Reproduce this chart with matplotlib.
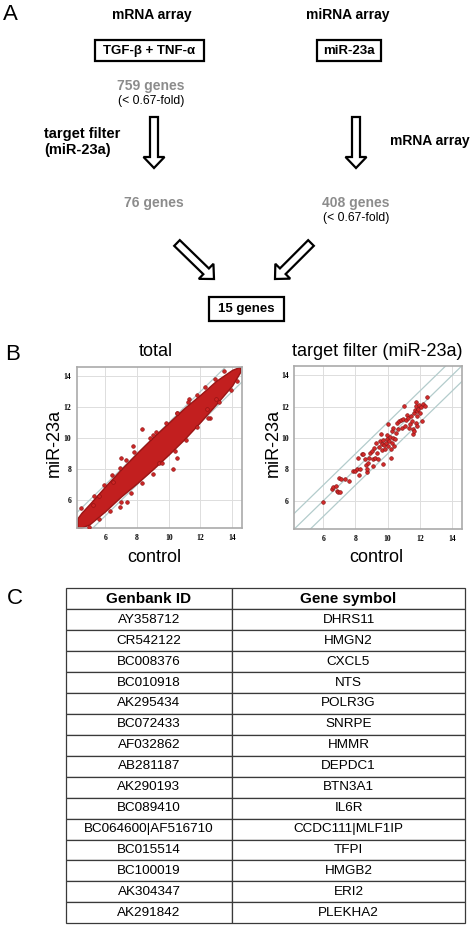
import matplotlib.pyplot as plt
from matplotlib.patches import Rectangle, FancyArrow

plt.rcParams['font.family'] = ['Liberation Sans', 'DejaVu Sans']

# ---- panel B: total array (dense cloud drawn as band + stray points) ----
cloud_x = [4.25, 4.5, 5.0, 6.0, 7.0, 8.0, 9.0, 10.0, 11.0, 12.0, 13.0, 14.0, 14.5]
cloud_hi = [4.85, 5.2, 5.75, 6.9, 8.0, 9.05, 10.05, 11.0, 11.95, 12.8, 13.7, 14.4, 14.6]
cloud_lo = [4.25, 4.25, 4.45, 5.3, 6.25, 7.1, 8.0, 8.95, 9.95, 11.05, 12.2, 13.4, 14.25]

stray_x = [8.3, 7.75, 7.0, 6.5, 5.6, 5.2, 10.5, 12.4, 13.0, 10.3, 9.4, 10.5, 7.4, 11.3,
           12.6, 9.0, 6.9,
           4.5, 5.3, 5.9, 6.4, 6.9, 7.3, 7.8, 8.8, 9.2, 9.8, 10.5, 11.2, 11.8, 12.3, 12.9,
           13.5,
           5.0, 5.6, 6.3, 7.0, 7.6, 8.3, 9.0, 9.6, 10.4, 11.1, 11.8, 12.5, 13.2, 13.9, 14.3]
stray_y = [10.6, 9.5, 8.75, 7.2, 6.3, 5.7, 11.6, 11.9, 12.5, 8.0, 8.4, 8.7, 5.9, 12.5,
           11.3, 10.2, 5.6,
           5.5, 6.3, 7.0, 7.6, 8.1, 8.6, 9.1, 10.0, 10.4, 11.0, 11.6, 12.3, 12.8, 13.3, 13.8,
           14.3,
           4.3, 4.8, 5.3, 5.9, 6.5, 7.1, 7.7, 8.4, 9.2, 9.9, 10.7, 11.3, 12.3, 13.1, 13.7]

# ---- panel B: target filter (miR-23a) ----
filt_x = [5.96, 6.52, 6.58, 6.77, 6.83, 6.93, 7.04, 6.97, 7.08, 7.35, 7.61, 7.86, 7.97, 8.07,
          8.22, 8.28, 8.17, 8.38, 8.48, 8.59, 8.65, 8.69, 8.73, 8.80, 8.86, 8.90, 9.00, 9.06,
          9.10, 9.15, 9.21, 9.27, 9.35, 9.42, 9.48, 9.52, 9.56, 9.62, 9.64, 9.69, 9.73, 9.79,
          9.83, 9.89, 9.93, 9.98, 10.02, 10.04, 10.10, 10.14, 10.18, 10.20, 10.24, 10.29,
          10.31, 10.35, 10.41, 10.45, 10.51, 10.60, 10.66, 10.72, 10.80, 10.87, 10.93, 11.01,
          11.07, 11.13, 11.18, 11.28, 11.34, 11.38, 11.42, 11.49, 11.55, 11.59, 11.63, 11.65,
          11.69, 11.73, 11.76, 11.80, 11.84, 11.90, 11.96, 12.00, 12.07, 12.13, 12.21, 12.31,
          12.42, 11.76, 11.84]
filt_y = [5.94, 6.74, 6.85, 6.95, 6.64, 6.57, 6.57, 7.48, 7.38, 7.38, 7.27, 7.90, 7.90, 8.00,
          7.63, 8.05, 8.75, 8.96, 8.96, 8.65, 8.27, 7.84, 8.05, 8.43, 8.75, 9.07, 9.17, 8.65,
          8.22, 9.39, 8.75, 9.70, 9.03, 8.65, 9.45, 9.82, 10.23, 9.60, 9.24, 8.33, 9.87, 9.53,
          9.28, 9.70, 9.92, 10.17, 10.87, 9.49, 9.81, 10.08, 9.28, 8.75, 10.44, 9.70,
          10.66, 10.02, 9.49, 9.92, 10.34, 10.97, 10.55, 11.08, 11.14, 10.66, 11.23, 12.03,
          10.80, 11.18, 11.50, 11.29, 10.66, 10.93, 11.40, 11.08, 10.55, 10.23, 10.44, 11.61,
          11.82, 12.03, 12.29, 11.71, 11.40, 11.86, 12.14, 11.61, 12.00, 11.08, 12.20, 12.03,
          12.62, 10.97, 10.76]

ticks = [6, 8, 10, 12, 14]
fold_offsets = [-1, 0, 1]

# ---- panel C: table ----
col_headers = ["Genbank ID", "Gene symbol"]
genbank_ids = ["AY358712", "CR542122", "BC008376", "BC010918", "AK295434", "BC072433",
               "AF032862", "AB281187", "AK290193", "BC089410", "BC064600|AF516710",
               "BC015514", "BC100019", "AK304347", "AK291842"]
gene_symbols = ["DHRS11", "HMGN2", "CXCL5", "NTS", "POLR3G", "SNRPE", "HMMR", "DEPDC1",
                "BTN3A1", "IL6R", "CCDC111|MLF1IP", "TFPI", "HMGB2", "ERI2", "PLEKHA2"]

W, H = 474, 927
fig = plt.figure(figsize=(W / 100, H / 100), dpi=100)


def px_axes(x0, y0, x1, y1):
    return fig.add_axes([x0 / W, 1 - y1 / H, (x1 - x0) / W, (y1 - y0) / H])


# overlay in pixel units for the flow chart and labels
ov = fig.add_axes([0, 0, 1, 1])
ov.set_xlim(0, W)
ov.set_ylim(H, 0)
ov.axis("off")


def box(x0, y0, x1, y1, label):
    ov.add_patch(Rectangle((x0, y0), x1 - x0, y1 - y0, fill=False, lw=1.6, ec="black"))
    ov.text((x0 + x1) / 2, (y0 + y1) / 2 + 0.5, label, ha="center", va="center",
            fontsize=9.5, weight="bold")


def block_arrow(x0, y0, x1, y1):
    ov.add_patch(FancyArrow(x0, y0, x1 - x0, y1 - y0, width=8, head_width=21,
                            head_length=11, length_includes_head=True,
                            fc="white", ec="black", lw=1.6))


# ---- A: flow chart ----
ov.text(3, 14, "A", fontsize=16, va="center", ha="left")
ov.text(152, 15, "mRNA array", ha="center", va="center", fontsize=10, weight="bold")
ov.text(348, 15, "miRNA array", ha="center", va="center", fontsize=10, weight="bold")
box(95, 39.5, 204, 61, "TGF-\u03b2 + TNF-\u03b1")
box(317, 39.5, 381, 61, "miR-23a")
ov.text(151, 86, "759 genes", ha="center", va="center", fontsize=10, weight="bold", color="#8c8c8c")
ov.text(151, 101, "(< 0.67-fold)", ha="center", va="center", fontsize=8.7)
block_arrow(154, 117, 154, 168)
block_arrow(356, 117, 356, 168)
ov.text(82, 134, "target filter", ha="center", va="center", fontsize=10.5, weight="bold")
ov.text(78, 150, "(miR-23a)", ha="center", va="center", fontsize=10.5, weight="bold")
ov.text(430, 141, "mRNA array", ha="center", va="center", fontsize=10, weight="bold")
ov.text(154, 203, "76 genes", ha="center", va="center", fontsize=10, weight="bold", color="#8c8c8c")
ov.text(356, 203, "408 genes", ha="center", va="center", fontsize=10, weight="bold", color="#8c8c8c")
ov.text(356, 218, "(< 0.67-fold)", ha="center", va="center", fontsize=8.7)
block_arrow(177, 243, 214, 279)
block_arrow(311, 243, 275, 279)
box(209.5, 296.5, 284, 320.5, "15 genes")

# ---- B: scatter plots ----
ov.text(5, 354, "B", fontsize=16, va="center", ha="left")


def style(ax):
    ax.set_xlim(4.2, 14.6)
    ax.set_ylim(4.2, 14.6)
    ax.set_xticks(ticks)
    ax.set_yticks(ticks)
    ax.grid(color="#dddddd", lw=0.7)
    ax.set_axisbelow(True)
    ax.tick_params(length=0, pad=4, labelsize=5.5)
    for lab in ax.get_xticklabels() + ax.get_yticklabels():
        lab.set_family("Liberation Serif")
        lab.set_weight("bold")
    for s in ax.spines.values():
        s.set_color("#aaaaaa")
        s.set_linewidth(1.2)
    for off in fold_offsets:
        ax.axline((0, off), slope=1, color="#b3cccc", lw=0.9, zorder=1)


ax1 = px_axes(76.7, 366.7, 241.7, 528.3)
style(ax1)
ax1.fill_between(cloud_x, cloud_lo, cloud_hi, color="#c21f1f", ec="#9a1515", lw=1.0, zorder=2)
ax1.scatter(stray_x, stray_y, s=7, c="#cc2525", edgecolors="#8a1010", linewidths=0.4, zorder=3)

ax2 = px_axes(294.3, 366, 461.7, 529)
style(ax2)
ax2.scatter(filt_x, filt_y, s=7, c="#d42a2a", edgecolors="#801010", linewidths=0.4, zorder=3)

ov.text(156, 351, "total", ha="center", va="center", fontsize=13)
ov.text(377, 351, "target filter (miR-23a)", ha="center", va="center", fontsize=13)
ov.text(54, 443, "miR-23a", rotation=90, ha="center", va="center", fontsize=13)
ov.text(273, 443, "miR-23a", rotation=90, ha="center", va="center", fontsize=13)
ov.text(154, 558, "control", ha="center", va="center", fontsize=13)
ov.text(376, 558, "control", ha="center", va="center", fontsize=13)

# ---- C: gene table ----
ov.text(7, 598, "C", fontsize=16, va="center", ha="left")
tax = px_axes(66, 588.3, 465, 923.3)
tax.axis("off")
tbl = tax.table(cellText=[list(r) for r in zip(genbank_ids, gene_symbols)],
                colLabels=col_headers, colWidths=[166 / 399, 233 / 399],
                cellLoc="center", bbox=[0, 0, 1, 1])
tbl.auto_set_font_size(False)
tbl.set_fontsize(9.7)
for (r, c), cell in tbl.get_celld().items():
    cell.set_edgecolor("#3a3a3a")
    cell.set_linewidth(0.9)
    if r == 0:
        cell.set_text_props(weight="bold", fontsize=11)

fig.savefig("out.png", dpi=100)
